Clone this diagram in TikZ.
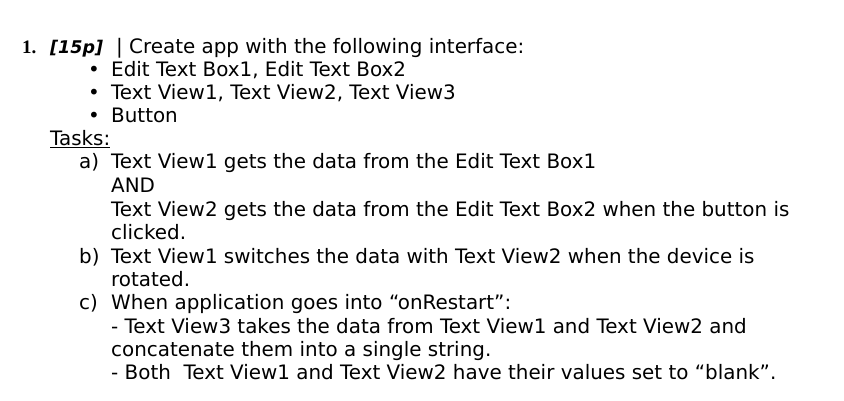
\documentclass[tikz,border=0pt]{standalone}
\usepackage{fontspec}
\setmainfont{DejaVu Sans}
\newfontfamily\serifb{Liberation Serif}
\begin{document}
\begin{tikzpicture}[x=1pt,y=-1pt,
  t/.style={anchor=base west,inner sep=0pt,font=\fontsize{19.9}{22}\selectfont}]
\useasboundingbox (0,0) rectangle (844,401);
\node[t,font=\fontsize{19}{22}\serifb\bfseries] (n1) at (22,54) {1.};
\node[t,font=\fontsize{17.5}{20}\selectfont\bfseries\itshape] (p) at (50,54) {[15p]};
\node[t] (l1) at (116,54) {| Create app with the following interface:};
\foreach \y/\s [count=\i] in {77/Edit Text Box1{,} Edit Text Box2, 100/Text View1{,} Text View2{,} Text View3, 123/Button}{
  \node[t] (bu\i) at (88,\y) {•};
  \node[t] (b\i) at (111,\y) {\s};
}
\node[t] (tasks) at (50,146) {\underline{Tasks:}};
\node[t] (la) at (79,169) {a)};
\node[t] (a1) at (111,169) {Text View1 gets the data from the Edit Text Box1};
\node[t] (a2) at (111,193) {AND};
\node[t] (a3) at (111,216) {Text View2 gets the data from the Edit Text Box2 when the button is};
\node[t] (a4) at (111,239) {clicked.};
\node[t] (lb) at (79,263) {b)};
\node[t] (b1x) at (111,263) {Text View1 switches the data with Text View2 when the device is};
\node[t] (b2x) at (111,286) {rotated.};
\node[t] (lc) at (79,309) {c)};
\node[t] (c1) at (111,309) {When application goes into “onRestart”:};
\node[t] (c2) at (111,333) {- Text View3 takes the data from Text View1 and Text View2 and};
\node[t] (c3) at (111,356) {concatenate them into a single string.};
\node[t] (c4) at (111,379) {- Both\ \ Text View1 and Text View2 have their values set to “blank”.};
\end{tikzpicture}
\end{document}
